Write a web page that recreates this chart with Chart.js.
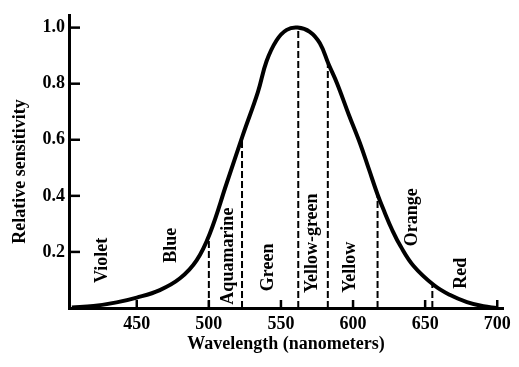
<!DOCTYPE html>
<html>
<head>
<meta charset="utf-8">
<script src="https://cdn.jsdelivr.net/npm/chart.js@4"></script>
<style>
  html, body { margin: 0; padding: 0; background: #fff; }
  #wrap { width: 519px; height: 367px; }
</style>
</head>
<body>
<div id="wrap"><canvas id="sensChart" width="519" height="367"></canvas></div>
<script>
// curve (nm -> relative sensitivity)
const wavelengths = [405, 420, 436, 450, 466, 480, 491.5, 500.7, 512.3, 523.8, 534, 540, 547, 554, 561.5, 570, 577, 583, 589, 597, 605, 611, 617, 622, 627, 633, 642, 656, 667, 679, 690.5, 699.5];
const sensitivity = [0.002, 0.007, 0.02, 0.037, 0.064, 0.106, 0.17, 0.266, 0.444, 0.62, 0.77, 0.88, 0.955, 0.992, 1.0, 0.985, 0.944, 0.87, 0.80, 0.69, 0.585, 0.495, 0.405, 0.34, 0.28, 0.22, 0.15, 0.082, 0.047, 0.021, 0.006, 0.0];

const xTicks = [450, 500, 550, 600, 650, 700];
const yTicks = [0.2, 0.4, 0.6, 0.8, 1.0];

// dashed dividers between the colour bands
const boundaryNm = [500, 523, 562, 582.5, 617, 655];
const boundaryTop = [0.26, 0.61, 1.0, 0.87, 0.40, 0.085];

// band names and where they sit
const colorNames = ["Violet", "Blue", "Aquamarine", "Green", "Yellow-green", "Yellow", "Orange", "Red"];
const colorNm = [426.4, 474.3, 513.2, 541.3, 571.5, 597.9, 641, 675];
const colorLevel = [0.17, 0.224, 0.185, 0.145, 0.231, 0.145, 0.324, 0.124];

const FONT = { family: '"Liberation Serif", "Times New Roman", serif', size: 18, weight: 'bold' };

const datasets = [{
    data: wavelengths.map((w, i) => ({ x: w, y: sensitivity[i] })),
    borderColor: "#000",
    borderWidth: 4,
    pointRadius: 0,
    tension: 0.4,
    fill: false
}];

boundaryNm.forEach((b, i) => {
    datasets.push({
        data: [{ x: b, y: 0 }, { x: b, y: boundaryTop[i] }],
        borderColor: "#000",
        borderWidth: 2,
        borderDash: [7, 3],
        pointRadius: 0,
        fill: false
    });
});

/* ticks pointing inward, band names and the y title */
const extras = {
    id: "extras",
    afterDatasetsDraw(chart) {
        const { ctx, scales: { x, y } } = chart;
        ctx.save();
        ctx.strokeStyle = "#000";
        ctx.lineWidth = 2.5;
        xTicks.forEach(v => {
            const px = x.getPixelForValue(v);
            ctx.beginPath();
            ctx.moveTo(px, y.bottom);
            ctx.lineTo(px, y.bottom - 8);
            ctx.stroke();
        });
        yTicks.forEach(v => {
            const py = y.getPixelForValue(v);
            ctx.beginPath();
            ctx.moveTo(x.left, py);
            ctx.lineTo(x.left + 11, py);
            ctx.stroke();
        });

        ctx.fillStyle = "#000";
        ctx.font = "bold 18px " + FONT.family;
        ctx.textAlign = "center";
        ctx.textBaseline = "middle";
        colorNames.forEach((name, i) => {
            ctx.save();
            ctx.translate(x.getPixelForValue(colorNm[i]), y.getPixelForValue(colorLevel[i]));
            ctx.rotate(-Math.PI / 2);
            ctx.fillText(name, 0, 0);
            ctx.restore();
        });

        ctx.save();
        ctx.translate(20, (y.top + y.bottom) / 2 + 10);
        ctx.rotate(-Math.PI / 2);
        ctx.fillText("Relative sensitivity", 0, 0);
        ctx.restore();

        ctx.restore();
    }
};

new Chart(document.getElementById("sensChart"), {
    type: "line",
    data: { datasets: datasets },
    options: {
        responsive: false,
        animation: false,
        layout: { padding: { top: 15, right: 16, left: 0, bottom: 0 } },
        plugins: { legend: { display: false }, tooltip: { enabled: false } },
        scales: {
            x: {
                type: "linear",
                min: 403,
                max: 704,
                grid: { display: false, drawTicks: false },
                border: { display: true, color: "#000", width: 3 },
                afterBuildTicks: s => { s.ticks = xTicks.map(v => ({ value: v })); },
                afterFit: s => { s.height = 59; },
                ticks: { color: "#000", font: FONT, padding: 6, maxRotation: 0 },
                title: {
                    display: true,
                    text: "Wavelength (nanometers)",
                    color: "#000",
                    font: FONT,
                    padding: { top: 0, bottom: 12 }
                }
            },
            y: {
                min: 0,
                max: 1.045,
                grid: { display: false, drawTicks: false },
                border: { display: true, color: "#000", width: 3 },
                afterBuildTicks: s => { s.ticks = yTicks.map(v => ({ value: v })); },
                afterFit: s => { s.width = 69; },
                ticks: { color: "#000", font: FONT, padding: 4, callback: v => Number(v).toFixed(1) }
            }
        }
    },
    plugins: [extras]
});
</script>
</body>
</html>
